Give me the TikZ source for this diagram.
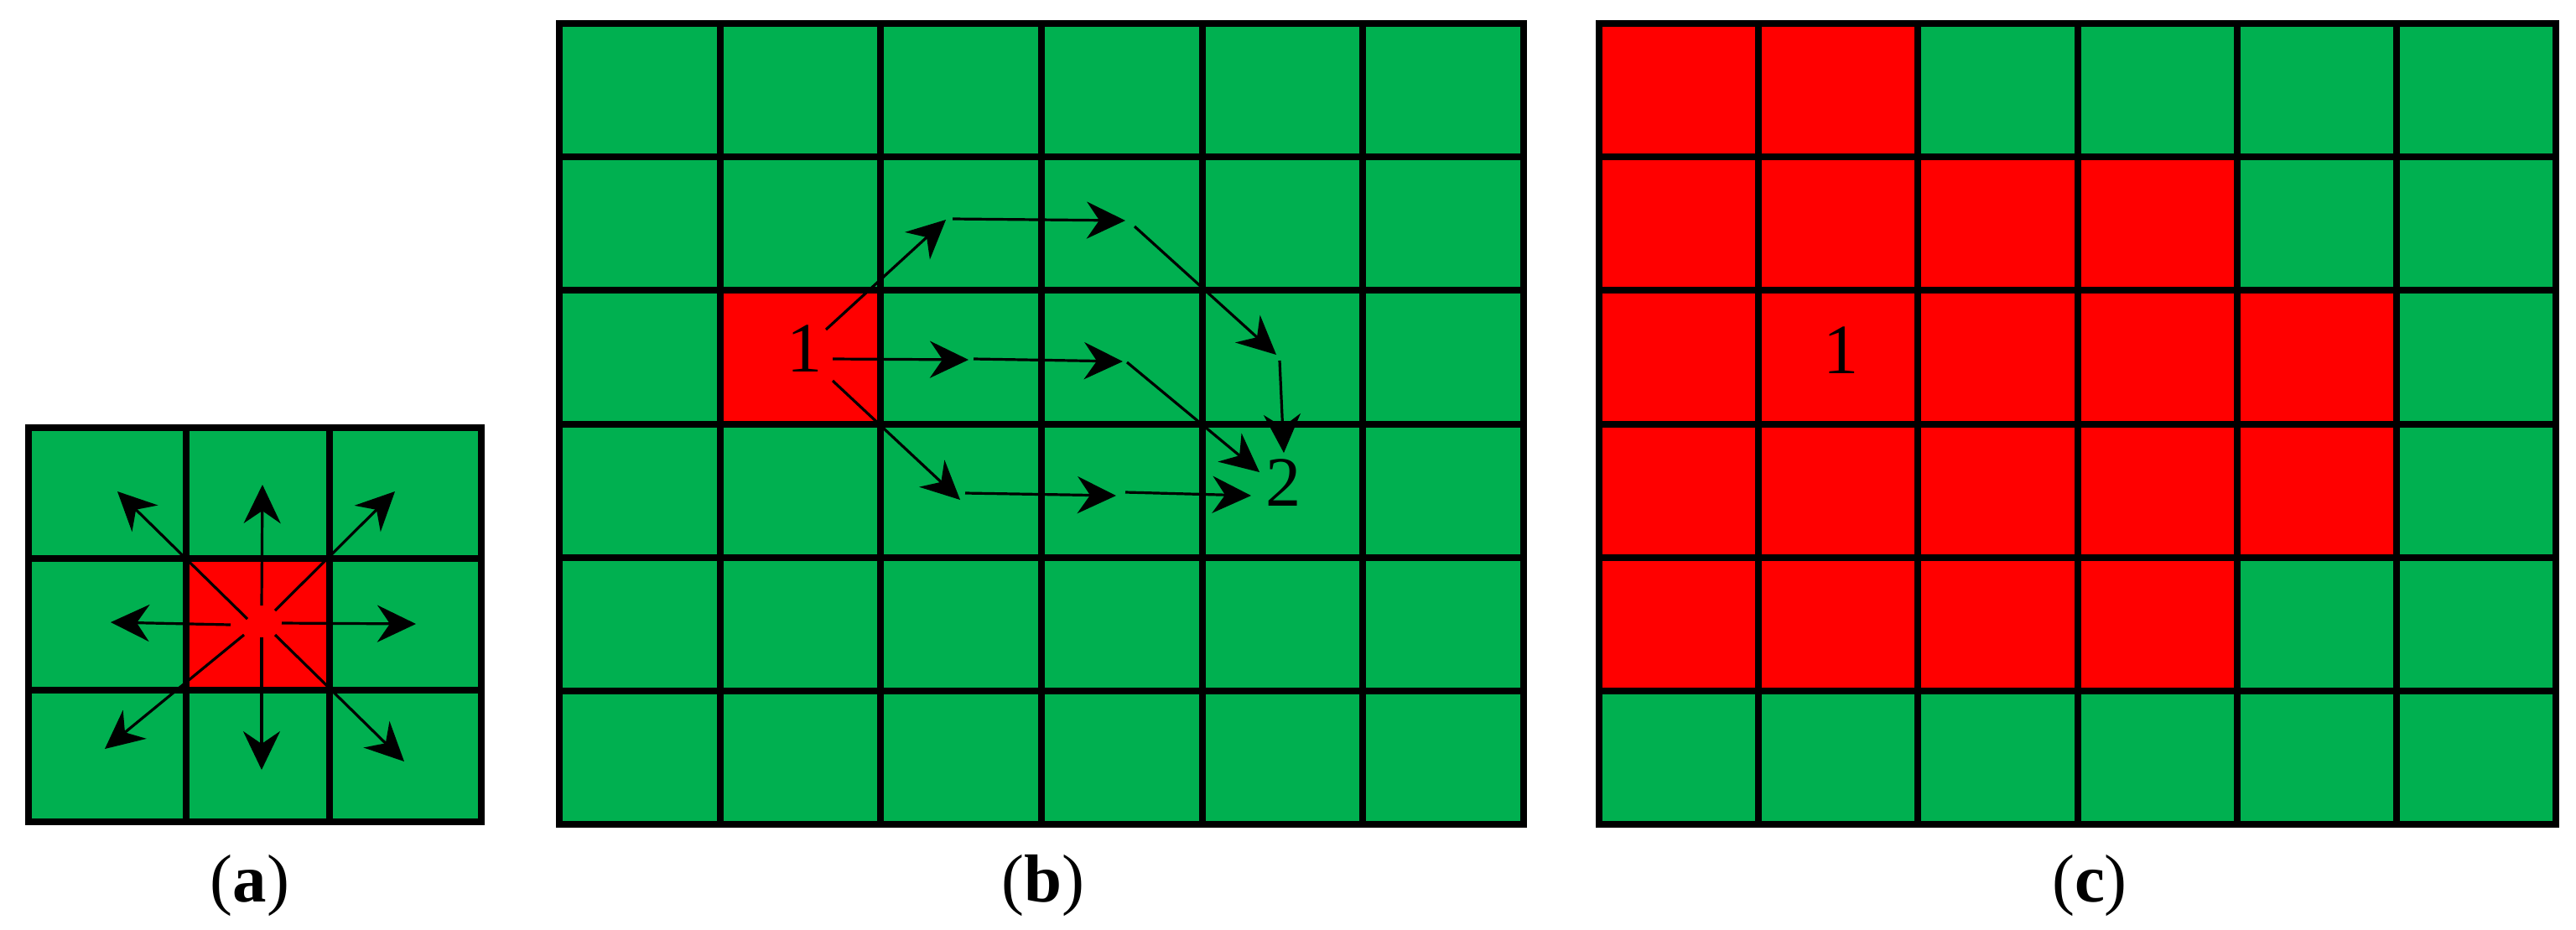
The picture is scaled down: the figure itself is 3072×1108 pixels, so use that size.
\documentclass[tikz,border=0pt]{standalone}
\usepackage{fontspec}
\setmainfont{Liberation Serif}
\usetikzlibrary{arrows.meta}
\definecolor{cgreen}{RGB}{0,176,80}
\definecolor{cred}{RGB}{255,0,0}
\tikzset{
  gridline/.style={line width=0.075cm, line cap=rect},
  frame/.style={line width=0.08cm, line join=miter},
  arr/.style={-{Stealth[length=0.46cm,width=0.44cm,inset=0.15cm]}, line width=0.032cm},
  digit/.style={anchor=base, inner sep=0pt, font=\fontsize{24pt}{28pt}\selectfont},
  caption/.style={anchor=base, inner sep=0pt, font=\fontsize{23pt}{27pt}\selectfont}
}
\begin{document}
\begin{tikzpicture}[x=0.01cm, y=-0.01cm]
\useasboundingbox[fill=white] (0,0) rectangle (3072,1108);

% ---------- (a) ----------
\fill[cgreen] (34,510) rectangle (574,980);
\fill[cred] (222,666) rectangle (393,823);
\foreach \x in {222,393} \draw[gridline] (\x,510) -- (\x,980);
\foreach \y in {666,823} \draw[gridline] (34,\y) -- (574,\y);
\draw[frame] (34,510) rectangle (574,980);

\coordinate (aULs) at (295,738);  \coordinate (aULt) at (140,586);
\coordinate (aUs)  at (312,722);  \coordinate (aUt)  at (313,578);
\coordinate (aURs) at (328,728);  \coordinate (aURt) at (471,586);
\coordinate (aLs)  at (275,745);  \coordinate (aLt)  at (132,742);
\coordinate (aRs)  at (336,743);  \coordinate (aRt)  at (496,744);
\coordinate (aDLs) at (291,757);  \coordinate (aDLt) at (125,893);
\coordinate (aDs)  at (312,760);  \coordinate (aDt)  at (312,918);
\coordinate (aDRs) at (328,757);  \coordinate (aDRt) at (482,908);
\foreach \n in {UL,U,UR,L,R,DL,D,DR} \draw[arr] (a\n s) -- (a\n t);

% ---------- (b) ----------
\fill[cgreen] (667,28) rectangle (1817,983);
\fill[cred] (859,346) rectangle (1050,506);
\foreach \x in {859,1050,1242,1434,1625} \draw[gridline] (\x,28) -- (\x,983);
\foreach \y in {187,346,506,665,824} \draw[gridline] (667,\y) -- (1817,\y);
\draw[frame] (667,28) rectangle (1817,983);

\node[digit] (b1) at (960,443) {1};
\node[digit] (b2) at (1531,603) {2};

\coordinate (p1s) at (985,393);   \coordinate (p1t) at (1128,262);
\coordinate (p2s) at (1136,261);  \coordinate (p2t) at (1342,263);
\coordinate (p3s) at (1353,270);  \coordinate (p3t) at (1522,423);
\coordinate (p4s) at (1526,430);  \coordinate (p4t) at (1531,540);
\coordinate (p5s) at (993,428);   \coordinate (p5t) at (1155,429);
\coordinate (p6s) at (1161,428);  \coordinate (p6t) at (1339,431);
\coordinate (p7s) at (1344,432);  \coordinate (p7t) at (1502,563);
\coordinate (p8s) at (993,454);   \coordinate (p8t) at (1145,596);
\coordinate (p9s) at (1151,588);  \coordinate (p9t) at (1331,591);
\coordinate (p10s) at (1342,587); \coordinate (p10t) at (1492,591);
\foreach \n in {1,...,10} \draw[arr] (p\n s) -- (p\n t);

% ---------- (c) ----------
\fill[cgreen] (1907,28) rectangle (3048,983);
\fill[cred] (1907,28) -- (2287,28) -- (2287,187) -- (2668,187) -- (2668,346)
  -- (2858,346) -- (2858,665) -- (2668,665) -- (2668,824) -- (1907,824) -- cycle;
\foreach \x in {2097,2287,2478,2668,2858} \draw[gridline] (\x,28) -- (\x,983);
\foreach \y in {187,346,506,665,824} \draw[gridline] (1907,\y) -- (3048,\y);
\draw[frame] (1907,28) rectangle (3048,983);

\node[digit] (c1) at (2196,445) {1};

% ---------- captions ----------
\node[caption] (capa) at (298,1075) {(\textbf{a})};
\node[caption] (capb) at (1244,1075) {(\textbf{b})};
\node[caption] (capc) at (2492,1075) {(\textbf{c})};
\end{tikzpicture}
\end{document}
